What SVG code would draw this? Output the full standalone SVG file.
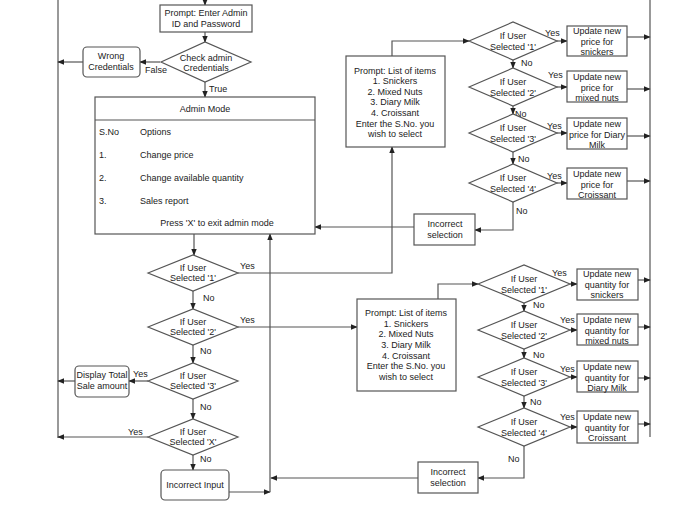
<svg xmlns="http://www.w3.org/2000/svg" width="700" height="512" viewBox="0 0 700 512">
<defs>
<marker id="a" viewBox="0 0 10 10" refX="9" refY="5" markerWidth="6" markerHeight="6" orient="auto"><path d="M0,1L10,5L0,9z" fill="#222"/></marker>
</defs>
<style>
rect,polygon{fill:#fff;stroke:#555;stroke-width:1.2}
.c path{fill:none;stroke:#555;stroke-width:1.2}
text{font-family:"Liberation Sans",Arial,sans-serif;font-size:9px;fill:#222}
.m{text-anchor:middle}
</style>
<rect width="700" height="512" style="fill:#fff;stroke:none"/>
<g class="c">
<path d="M205,0V5" marker-end="url(#a)"/>
<path d="M205,32V42" marker-end="url(#a)"/>
<path d="M160,62H140" marker-end="url(#a)"/>
<path d="M58,0V438"/>
<path d="M83,62H58" marker-end="url(#a)"/>
<path d="M205,82V97" marker-end="url(#a)"/>
<path d="M194,234V255" marker-end="url(#a)"/>
<path d="M193,291V309" marker-end="url(#a)"/>
<path d="M193,345V363" marker-end="url(#a)"/>
<path d="M193,399V419" marker-end="url(#a)"/>
<path d="M193,455V470" marker-end="url(#a)"/>
<path d="M148,381H129" marker-end="url(#a)"/>
<path d="M75,381H58" marker-end="url(#a)"/>
<path d="M148,437H58" marker-end="url(#a)"/>
<path d="M229,492H270" marker-end="url(#a)"/>
<path d="M270,492V234" marker-end="url(#a)"/>
<path d="M238,273H392V147" marker-end="url(#a)"/>
<path d="M392,56V41H469" marker-end="url(#a)"/>
<path d="M513,60V68" marker-end="url(#a)"/>
<path d="M513,106V114" marker-end="url(#a)"/>
<path d="M513,152V164" marker-end="url(#a)"/>
<path d="M557,41H567" marker-end="url(#a)"/>
<path d="M557,87H567" marker-end="url(#a)"/>
<path d="M557,133H567" marker-end="url(#a)"/>
<path d="M557,183H567" marker-end="url(#a)"/>
<path d="M627,37H650" marker-end="url(#a)"/>
<path d="M627,89H650" marker-end="url(#a)"/>
<path d="M627,136H650" marker-end="url(#a)"/>
<path d="M627,181H650" marker-end="url(#a)"/>
<path d="M650,0V437"/>
<path d="M513,202V230H475" marker-end="url(#a)"/>
<path d="M414,227H315" marker-end="url(#a)"/>
<path d="M238,327H357" marker-end="url(#a)"/>
<path d="M438,299V284H478" marker-end="url(#a)"/>
<path d="M524,303V311" marker-end="url(#a)"/>
<path d="M524,349V358" marker-end="url(#a)"/>
<path d="M524,396V408" marker-end="url(#a)"/>
<path d="M570,284H577" marker-end="url(#a)"/>
<path d="M570,330H577" marker-end="url(#a)"/>
<path d="M570,377H577" marker-end="url(#a)"/>
<path d="M570,427H577" marker-end="url(#a)"/>
<path d="M638,280H650" marker-end="url(#a)"/>
<path d="M638,327H650" marker-end="url(#a)"/>
<path d="M638,378H650" marker-end="url(#a)"/>
<path d="M638,424H650" marker-end="url(#a)"/>
<path d="M524,446V478H478" marker-end="url(#a)"/>
<path d="M418,478H271" marker-end="url(#a)"/>
</g>
<g class="c" id="labels">
<text x="145" y="73">False</text><text x="209" y="92">True</text>
<text x="240" y="269">Yes</text><text x="203" y="301">No</text>
<text x="240" y="323">Yes</text><text x="200" y="354">No</text>
<text x="133" y="377">Yes</text><text x="200" y="410">No</text>
<text x="128" y="435">Yes</text><text x="200" y="462">No</text>
<text x="545" y="36">Yes</text><text x="521" y="66">No</text>
<text x="548" y="78">Yes</text><text x="515" y="117">No</text>
<text x="547" y="129">Yes</text><text x="518" y="162">No</text>
<text x="547" y="179">Yes</text><text x="516" y="214">No</text>
<text x="552" y="276">Yes</text><text x="533" y="308">No</text>
<text x="560" y="323">Yes</text><text x="533" y="358">No</text>
<text x="560" y="372">Yes</text><text x="530" y="405">No</text>
<text x="560" y="420">Yes</text><text x="508" y="462">No</text>
</g>
<g id="prompt"><rect x="160" y="5" width="92" height="27"/><text class="m" x="206" y="16">Prompt: Enter Admin</text><text class="m" x="206" y="27">ID and Password</text></g>
<g id="check"><polygon points="161,62 205,42 251,62 205,82"/><text class="m" x="206" y="61">Check admin</text><text class="m" x="206" y="71">Credentials</text></g>
<g id="wrong"><rect x="83" y="47" width="57" height="30" rx="4"/><text class="m" x="111" y="59">Wrong</text><text class="m" x="111" y="70">Credentials</text></g>
<g id="admin"><rect x="95" y="97" width="220" height="137"/><path d="M95,120H315" stroke="#555" stroke-width="1.2"/>
<text class="m" x="205" y="112">Admin Mode</text>
<text x="99" y="135">S.No</text><text x="140" y="135">Options</text>
<text x="99" y="158">1.</text><text x="140" y="158">Change price</text>
<text x="99" y="181">2.</text><text x="140" y="181">Change available quantity</text>
<text x="99" y="204">3.</text><text x="140" y="204">Sales report</text>
<text class="m" x="217" y="226">Press 'X' to exit admin mode</text></g>
<g id="l1"><polygon points="148,273 193,255 238,273 193,291"/><text class="m" x="193" y="271">If User</text><text class="m" x="193" y="281">Selected '1'</text></g>
<g id="l2"><polygon points="148,327 193,309 238,327 193,345"/><text class="m" x="193" y="325">If User</text><text class="m" x="193" y="335">Selected '2'</text></g>
<g id="l3"><polygon points="148,381 193,363 238,381 193,399"/><text class="m" x="193" y="379">If User</text><text class="m" x="193" y="389">Selected '3'</text></g>
<g id="lx"><polygon points="148,437 193,419 238,437 193,455"/><text class="m" x="193" y="435">If User</text><text class="m" x="193" y="445">Selected 'X'</text></g>
<g id="disp"><rect x="75" y="366" width="54" height="31" rx="4"/><text class="m" x="102" y="378">Display Total</text><text class="m" x="102" y="389">Sale amount</text></g>
<g id="incin"><rect x="161" y="470" width="68" height="30" rx="4"/><text class="m" x="195" y="488">Incorrect Input</text></g>
<g id="p1"><rect x="346" y="56" width="99" height="91"/>
<text class="m" x="395" y="74">Prompt: List of items</text><text class="m" x="395" y="84">1. Snickers</text><text class="m" x="395" y="95">2. Mixed Nuts</text><text class="m" x="395" y="105">3. Diary Milk</text><text class="m" x="395" y="116">4. Croissant</text><text class="m" x="395" y="127">Enter the S.No. you</text><text class="m" x="395" y="137">wish to select</text></g>
<g id="pd1"><polygon points="469,41 513,22 557,41 513,60"/><text class="m" x="513" y="39">If User</text><text class="m" x="513" y="50">Selected '1'</text></g>
<g id="pd2"><polygon points="469,87 513,68 557,87 513,106"/><text class="m" x="513" y="85">If User</text><text class="m" x="513" y="96">Selected '2'</text></g>
<g id="pd3"><polygon points="469,133 513,114 557,133 513,152"/><text class="m" x="513" y="131">If User</text><text class="m" x="513" y="142">Selected '3'</text></g>
<g id="pd4"><polygon points="469,183 513,164 557,183 513,202"/><text class="m" x="513" y="181">If User</text><text class="m" x="513" y="192">Selected '4'</text></g>
<g id="pb1"><rect x="567" y="26" width="60" height="30"/><text class="m" x="597" y="34">Update new</text><text class="m" x="597" y="45">price for</text><text class="m" x="597" y="55">snickers</text></g>
<g id="pb2"><rect x="567" y="71" width="60" height="31"/><text class="m" x="597" y="80">Update new</text><text class="m" x="597" y="91">price for</text><text class="m" x="597" y="101">mixed nuts</text></g>
<g id="pb3"><rect x="567" y="118" width="60" height="31"/><text class="m" x="597" y="127">Update new</text><text class="m" x="597" y="138">price for Diary</text><text class="m" x="597" y="148">Milk</text></g>
<g id="pb4"><rect x="567" y="168" width="60" height="31"/><text class="m" x="597" y="177">Update new</text><text class="m" x="597" y="188">price for</text><text class="m" x="597" y="198">Croissant</text></g>
<g id="is1"><rect x="414" y="214" width="61" height="31"/><text class="m" x="445" y="227">Incorrect</text><text class="m" x="445" y="238">selection</text></g>
<g id="p2"><rect x="357" y="299" width="99" height="92"/>
<text class="m" x="406" y="316">Prompt: List of items</text><text class="m" x="406" y="327">1. Snickers</text><text class="m" x="406" y="337">2. Mixed Nuts</text><text class="m" x="406" y="348">3. Diary Milk</text><text class="m" x="406" y="359">4. Croissant</text><text class="m" x="406" y="369">Enter the S.No. you</text><text class="m" x="406" y="380">wish to select</text></g>
<g id="qd1"><polygon points="478,284 524,265 570,284 524,303"/><text class="m" x="524" y="282">If User</text><text class="m" x="524" y="293">Selected '1'</text></g>
<g id="qd2"><polygon points="478,330 524,311 570,330 524,349"/><text class="m" x="524" y="328">If User</text><text class="m" x="524" y="339">Selected '2'</text></g>
<g id="qd3"><polygon points="478,377 524,358 570,377 524,396"/><text class="m" x="524" y="375">If User</text><text class="m" x="524" y="386">Selected '3'</text></g>
<g id="qd4"><polygon points="478,427 524,408 570,427 524,446"/><text class="m" x="524" y="425">If User</text><text class="m" x="524" y="436">Selected '4'</text></g>
<g id="qb1"><rect x="577" y="269" width="61" height="31"/><text class="m" x="607" y="277">Update new</text><text class="m" x="607" y="288">quantity for</text><text class="m" x="607" y="298">snickers</text></g>
<g id="qb2"><rect x="577" y="314" width="61" height="31"/><text class="m" x="607" y="323">Update new</text><text class="m" x="607" y="334">quantity for</text><text class="m" x="607" y="344">mixed nuts</text></g>
<g id="qb3"><rect x="577" y="361" width="61" height="31"/><text class="m" x="607" y="370">Update new</text><text class="m" x="607" y="381">quantity for</text><text class="m" x="607" y="391">Diary Milk</text></g>
<g id="qb4"><rect x="577" y="411" width="61" height="32"/><text class="m" x="607" y="420">Update new</text><text class="m" x="607" y="431">quantity for</text><text class="m" x="607" y="441">Croissant</text></g>
<g id="is2"><rect x="418" y="462" width="60" height="31"/><text class="m" x="448" y="475">Incorrect</text><text class="m" x="448" y="486">selection</text></g>
</svg>
